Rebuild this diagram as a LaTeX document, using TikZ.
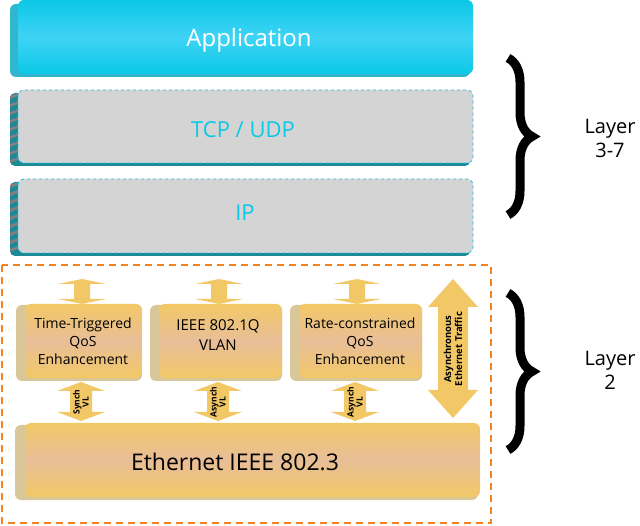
\documentclass[tikz,border=0pt]{standalone}
\usepackage{fontspec}
\setmainfont{Open Sans}
\usetikzlibrary{decorations.pathreplacing}
\definecolor{cy}{HTML}{3FD3F5}
\definecolor{cyd}{HTML}{0BC8E6}
\definecolor{teal}{HTML}{1B8A96}
\definecolor{gy}{HTML}{D4D4D4}
\definecolor{ye}{HTML}{F2C866}
\definecolor{pk}{HTML}{E8BE98}
\definecolor{ys}{HTML}{D9C79A}
\definecolor{org}{HTML}{F58220}
\newcommand{\myarrow}[6]{% x, ytop, ybot, shaft half, head half, head len
 \fill[ye] (#1,#2) -- (#1+#5,#2+#6) -- (#1+#4,#2+#6) -- (#1+#4,#3-#6) -- (#1+#5,#3-#6) -- (#1,#3) -- (#1-#5,#3-#6) -- (#1-#4,#3-#6) -- (#1-#4,#2+#6) -- (#1-#5,#2+#6) -- cycle;}
\tikzset{
 proto/.style={rounded corners=6pt, fill=gy, draw=cyd, dashed, line width=0.8pt},
 side/.style={rounded corners=5pt, fill=teal},
 ybox/.style={rounded corners=6pt, top color=ye, bottom color=ye, middle color=pk},
 yside/.style={rounded corners=6pt, fill=ys},
 btxt/.style={font=\fontsize{8.5}{9}\selectfont\bfseries, align=center, rotate=90},
 lay/.style={font=\fontsize{20}{24}\selectfont, align=center},
 brace/.style={decorate, decoration={brace, amplitude=24pt}, line width=9pt}
}
\begin{document}
\begin{tikzpicture}[x=1pt,y=-1pt]
\useasboundingbox (0,0) rectangle (640,526);
% Application
\fill[rounded corners=6pt, fill=cy!60!teal] (10,4) rectangle (470,77);
\shade[rounded corners=6pt, top color=cyd, bottom color=cyd, middle color=cy] (18,0) rectangle (473,74);
\node[text=white, font=\fontsize{24}{26}\selectfont] (app) at (249,40) {Application};
% TCP
\fill[side] (10,93) rectangle (470,166);
\foreach \y in {96,104,...,160} \fill[gray] (10,\y) -- (18,\y-3) -- (18,\y) -- (10,\y+3) -- cycle;
\draw[proto] (18,90) rectangle (473,163);
\node[text=cyd, font=\fontsize{22}{24}\selectfont] (tcp) at (243,130) {TCP / UDP};
% IP
\fill[side] (10,182) rectangle (470,256);
\foreach \y in {185,193,...,249} \fill[gray] (10,\y) -- (18,\y-3) -- (18,\y) -- (10,\y+3) -- cycle;
\draw[proto] (18,179) rectangle (473,253);
\node[text=cyd, font=\fontsize{22}{24}\selectfont] (ip) at (245,213) {IP};
% Layer 2 frame
\draw[org, line width=1.5pt, dash pattern=on 7pt off 5pt] (2,265) rectangle (491,523);
% upper arrows
\myarrow{82}{279}{304}{8}{24}{5}
\myarrow{219}{279}{304}{8}{24}{5}
\myarrow{357}{279}{304}{8}{24}{5}
% boxes
\fill[yside] (16,305) rectangle (142,381);
\shade[ybox] (25,304) rectangle (142,378);
\node[font=\fontsize{14}{18}\selectfont, align=center] (tt) at (83,341) {Time-Triggered\\QoS\\Enhancement};
\fill[yside] (150,305) rectangle (282,381);
\shade[ybox] (159,304) rectangle (282,378);
\node[font=\fontsize{15}{20}\selectfont, align=center] (vl) at (218,335) {IEEE 802.1Q\\VLAN};
\fill[yside] (290,305) rectangle (422,381);
\shade[ybox] (299,304) rectangle (422,378);
\node[font=\fontsize{14}{18}\selectfont, align=center] (rc) at (360,341) {Rate-constrained\\QoS\\Enhancement};
% lower arrows
\myarrow{81}{382}{421}{11}{24}{9}
\node[btxt] (s1) at (81,402) {Synch\\VL};
\myarrow{218}{382}{421}{11}{24}{9}
\node[btxt] (s2) at (218,402) {Asynch\\VL};
\myarrow{355}{382}{421}{11}{24}{9}
\node[btxt] (s3) at (355,402) {Asynch\\VL};
% async ethernet
\myarrow{453}{279}{418}{15}{25}{28}
\node[btxt, font=\fontsize{9.5}{11}\selectfont\bfseries] (ae) at (453,349) {Asynchronous\\Ethernet Traffic};
% Ethernet
\fill[yside] (15,425) rectangle (478,500);
\shade[ybox] (25,423) rectangle (480,497);
\node[font=\fontsize{23}{25}\selectfont] (eth) at (235,462) {Ethernet IEEE 802.3};
% braces
\draw[brace] (508,58) -- (508,215);
\draw[brace] (508,293) -- (508,450);
\node[lay] (l37) at (610,138) {Layer\\3-7};
\node[lay] (l2) at (610,370) {Layer\\2};
\end{tikzpicture}
\end{document}
